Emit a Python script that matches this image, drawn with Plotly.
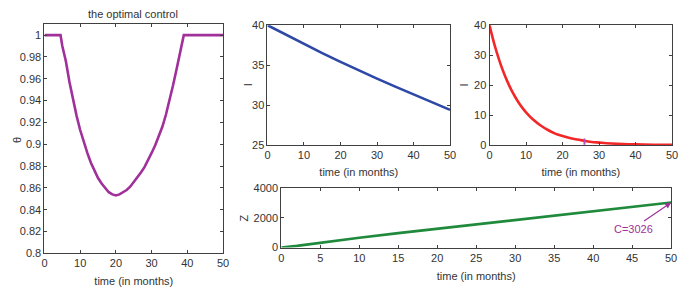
import plotly.graph_objects as go

# ---- data ----
t_theta = [0, 4.5, 5, 6, 7, 8, 9, 10, 11, 12, 13, 14, 15, 16, 17, 18, 19, 20, 21, 22, 23, 24,
           25, 26, 27, 28, 29, 30, 31, 32, 33, 34, 35, 36, 37, 38, 39, 50]
theta = [1.0, 1.0, 0.990, 0.976, 0.957, 0.941, 0.926, 0.913, 0.902, 0.892, 0.883, 0.876, 0.869,
         0.864, 0.860, 0.856, 0.854, 0.853, 0.854, 0.856, 0.858, 0.861, 0.865, 0.869, 0.874,
         0.879, 0.885, 0.892, 0.899, 0.907, 0.916, 0.927, 0.940, 0.954, 0.969, 0.986, 1.0, 1.0]

t_S = [0, 5, 10, 15, 20, 25, 30, 35, 40, 45, 50]
S_vals = [40.0, 38.8, 37.6, 36.5, 35.4, 34.3, 33.3, 32.3, 31.3, 30.3, 29.4]

t_I = [0, 1, 2, 3, 4, 5, 6, 7, 8, 9, 10, 12, 14, 16, 18, 20, 22, 24, 26, 28, 30, 32, 35, 40, 45, 50]
I_vals = [40.0, 35.1, 30.8, 27.1, 23.8, 20.9, 18.3, 16.1, 14.1, 12.4, 10.9, 8.4, 6.5, 5.0, 3.8,
          3.0, 2.3, 1.8, 1.4, 1.0, 0.8, 0.6, 0.4, 0.2, 0.1, 0.1]

t_Z = [0, 1, 2, 3, 5, 10, 15, 20, 25, 30, 35, 40, 45, 50]
Z_vals = [0, 40, 110, 180, 330, 660, 970, 1270, 1560, 1850, 2160, 2450, 2740, 3026]

theta_ticks = [0.8, 0.82, 0.84, 0.86, 0.88, 0.9, 0.92, 0.94, 0.96, 0.98, 1.0]
theta_ticktext = ["0.8", "0.82", "0.84", "0.86", "0.88", "0.9", "0.92", "0.94", "0.96", "0.98", "1"]

W, H = 685, 289
def xd(a, b): return [a / W, b / W]
def yd(a, b): return [1 - b / H, 1 - a / H]

fig = go.Figure()
fig.add_trace(go.Scatter(x=t_theta, y=theta, mode="lines", line=dict(color="#A0309A", width=2.6),
                         xaxis="x", yaxis="y", showlegend=False))
fig.add_trace(go.Scatter(x=t_S, y=S_vals, mode="lines", line=dict(color="#2D48A6", width=2.6),
                         xaxis="x2", yaxis="y2", showlegend=False))
fig.add_trace(go.Scatter(x=t_I, y=I_vals, mode="lines", line=dict(color="#F22828", width=2.6, shape="spline"),
                         xaxis="x3", yaxis="y3", showlegend=False))
fig.add_trace(go.Scatter(x=[26, 26], y=[0.1, 2.2], mode="lines", line=dict(color="#B050C0", width=2),
                         xaxis="x3", yaxis="y3", showlegend=False))
fig.add_trace(go.Scatter(x=t_Z, y=Z_vals, mode="lines", line=dict(color="#1F8A3B", width=2.6),
                         xaxis="x4", yaxis="y4", showlegend=False))

ax_common = dict(showline=True, linecolor="#404040", linewidth=1, mirror="ticks", ticks="inside",
                 ticklen=3, tickcolor="#404040", showgrid=False, zeroline=False,
                 tickfont=dict(family="Liberation Sans, Arial", size=11, color="#333333"))

title_font = dict(family="Liberation Sans, Arial", size=11, color="#333333")

fig.update_layout(
    width=W, height=H, margin=dict(l=0, r=0, t=0, b=0),
    paper_bgcolor="white", plot_bgcolor="white",
    xaxis=dict(domain=xd(42, 223), range=[0, 50], tickvals=[0, 10, 20, 30, 40, 50], anchor="y",
               title=dict(text="time (in months)", font=title_font, standoff=8), **ax_common),
    yaxis=dict(domain=yd(19, 258), range=[0.8, 1.01], tickvals=theta_ticks, ticktext=theta_ticktext,
               anchor="x", **ax_common),
    xaxis2=dict(domain=xd(268, 453), range=[0, 50], tickvals=[0, 10, 20, 30, 40, 50], anchor="y2",
                title=dict(text="time (in months)", font=title_font, standoff=8), **ax_common),
    yaxis2=dict(domain=yd(20, 145), range=[25, 40], tickvals=[25, 30, 35, 40], anchor="x2", **ax_common),
    xaxis3=dict(domain=xd(493, 678), range=[0, 50], tickvals=[0, 10, 20, 30, 40, 50], anchor="y3",
                title=dict(text="time (in months)", font=title_font, standoff=8), **ax_common),
    yaxis3=dict(domain=yd(20, 145), range=[0, 40], tickvals=[0, 10, 20, 30, 40], anchor="x3", **ax_common),
    xaxis4=dict(domain=xd(282, 677), range=[0, 50], tickvals=list(range(0, 51, 5)), anchor="y4",
                title=dict(text="time (in months)", font=title_font, standoff=9), **ax_common),
    yaxis4=dict(domain=yd(190, 252), range=[0, 4000], tickvals=[0, 2000, 4000], anchor="x4", **ax_common),
)

annots = [
    dict(text="the optimal control", x=132 / W, y=1 - 8 / H, xref="paper", yref="paper",
         showarrow=False, font=title_font, xanchor="center", yanchor="middle"),
    dict(text="θ", x=14 / W, y=1 - 140 / H, xref="paper", yref="paper", textangle=-90,
         showarrow=False, font=title_font, xanchor="center", yanchor="middle"),
    dict(text="I", x=248 / W, y=1 - 82 / H, xref="paper", yref="paper", textangle=-90,
         showarrow=False, font=title_font, xanchor="center", yanchor="middle"),
    dict(text="I", x=467 / W, y=1 - 82 / H, xref="paper", yref="paper", textangle=-90,
         showarrow=False, font=title_font, xanchor="center", yanchor="middle"),
    dict(text="Z", x=244 / W, y=1 - 221 / H, xref="paper", yref="paper", textangle=-90,
         showarrow=False, font=title_font, xanchor="center", yanchor="middle"),
    dict(text="C=3026", x=50, y=Z_vals[-1], xref="x4", yref="y4", showarrow=True,
         arrowhead=2, arrowsize=1, arrowwidth=1.2, arrowcolor="#A0309A", ax=-38, ay=26,
         font=dict(family="Liberation Sans, Arial", size=11, color="#A0309A"),
         xanchor="center", yanchor="middle"),
]
fig.update_layout(annotations=annots)

fig.write_html("out.html", config={"displayModeBar": False},
               post_script="document.body.style.margin='0';document.body.style.overflow='hidden';")
